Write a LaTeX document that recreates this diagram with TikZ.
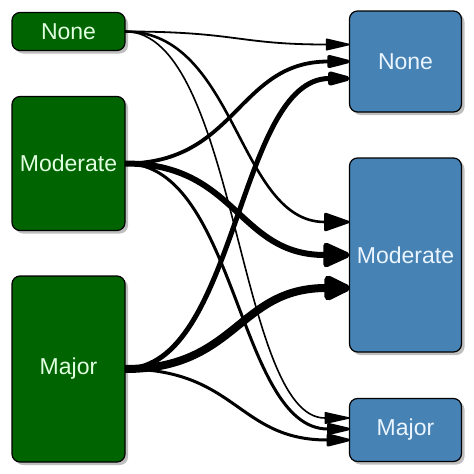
\documentclass[tikz,border=0pt]{standalone}
\usepackage{fontspec}
\setmainfont{Liberation Sans}
\usepackage{xcolor}
\usetikzlibrary{arrows.meta, shadows}
\definecolor{DarkGreen}{RGB}{0, 100, 0}
\definecolor{SteelBlue}{RGB}{70, 130, 180}
\definecolor{PaleGreen}{RGB}{225, 255, 225}
\definecolor{PaleBlue}{RGB}{235, 245, 255}

\begin{document}
\begin{tikzpicture}[
    x=1pt, y=1pt,
    cat/.style={
      rectangle, rounded corners=8pt, draw=black, line width=1.2pt,
      minimum width=113pt, inner sep=0pt, outer sep=0pt,
      font=\fontsize{23}{27}\selectfont,
      drop shadow={shadow xshift=3pt, shadow yshift=-3pt, fill=black!25, opacity=1}
    },
    before/.style={cat, fill=DarkGreen, text=PaleGreen},
    after/.style={cat, fill=SteelBlue, text=PaleBlue},
    flow/.style n args={3}{line width=#1, -{Triangle[length=#2, width=#3, round]}}
  ]
    \useasboundingbox (0,0) rectangle (474,-474);

    % left column
    \node[before, minimum height=38pt]  (lNone)     at (68.5,-31.5) {None};
    \node[before, minimum height=134pt] (lModerate) at (68.5,-163.5) {Moderate};
    \node[before, minimum height=186pt] (lMajor)    at (68.5,-369)  {Major};

    % right column
    \node[after, minimum width=112pt, minimum height=101pt] (rNone)     at (405.5,-61.5) {None};
    \node[after, minimum width=112pt, minimum height=194pt] (rModerate) at (405.5,-255)  {Moderate};
    \node[after, minimum width=112pt, minimum height=63pt]  (rMajor)    at (405.5,-430)  {Major};

    % flows
    \draw[flow={1.8pt}{27pt}{12pt}] (lNone.east) .. controls +(112,0) and +(-112,0) .. ([yshift=17pt]rNone.west);
    \draw[flow={2.6pt}{28pt}{19pt}] (lNone.east) .. controls +(112,0) and +(-112,0) .. ([yshift=33pt]rModerate.west);
    \draw[flow={1.6pt}{28pt}{12pt}] (lNone.east) .. controls +(112,0) and +(-112,0) .. ([yshift=12pt]rMajor.west);

    \draw[flow={3.8pt}{29pt}{13pt}] (lModerate.east) .. controls +(112,0) and +(-112,0) .. (rNone.west);
    \draw[flow={6pt}{31pt}{26pt}]   (lModerate.east) .. controls +(112,0) and +(-112,0) .. (rModerate.west);
    \draw[flow={3pt}{28pt}{12pt}]   (lModerate.east) .. controls +(112,0) and +(-112,0) .. ([yshift=1pt]rMajor.west);

    \draw[flow={5pt}{30pt}{14pt}]   (lMajor.east) .. controls +(112,0) and +(-112,0) .. ([yshift=-17pt]rNone.west);
    \draw[flow={8pt}{31pt}{27pt}]   (lMajor.east) .. controls +(112,0) and +(-112,0) .. ([yshift=-33pt]rModerate.west);
    \draw[flow={3pt}{28pt}{13pt}]   (lMajor.east) .. controls +(112,0) and +(-112,0) .. ([yshift=-10pt]rMajor.west);
  \end{tikzpicture}
\end{document}
